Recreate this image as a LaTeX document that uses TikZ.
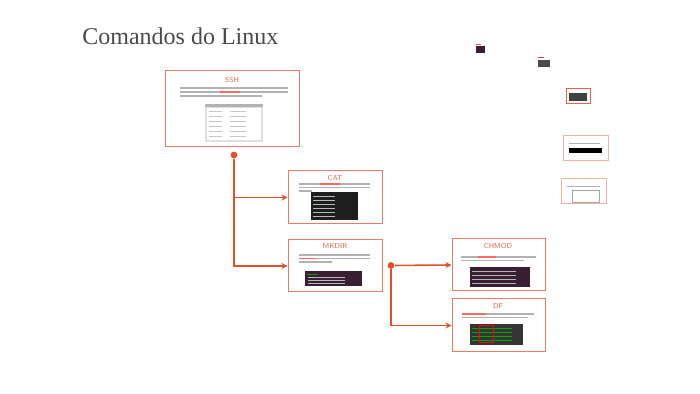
\documentclass[tikz,border=0pt]{standalone}
\usepackage{fontspec}
\setmainfont{Liberation Serif}
\usepackage{tikz}
\usetikzlibrary{arrows.meta}

\definecolor{prezi}{HTML}{E2674A}
\definecolor{linkred}{HTML}{E0512B}
\definecolor{titlegray}{HTML}{4A4A4A}
\definecolor{termpurple}{HTML}{3A1E33}
\definecolor{termdark}{HTML}{1E1E1E}

\tikzset{
  slide/.style={draw=prezi!85, line width=0.5pt, fill=white, inner sep=0pt},
  boxtitle/.style={text=prezi, font=\fontsize{3.6}{4}\selectfont\sffamily, inner sep=0pt},
  txtline/.style={gray!60, line width=0.55pt},
  redline/.style={red!60, line width=0.55pt},
  link/.style={draw=linkred, line width=0.8pt},
  junction/.style={circle, fill=linkred, inner sep=0pt, minimum size=3.4pt}
}

\begin{document}
\begin{tikzpicture}[x=0.5pt,y=-0.5pt]
    \useasboundingbox (0,0) rectangle (700,394);
    \fill[white] (0,0) rectangle (700,394);

    % Dot grid
    \foreach \x in {9,26,...,700}
        \foreach \y in {8,25,...,394}
            \fill[gray!16] (\x,\y) circle (0.35pt);

    % Title
    \node[anchor=west, text=titlegray, font=\fontsize{12}{14}\selectfont, inner sep=0pt] (title) at (82,36) {Comandos do Linux};

    % SSH slide
    \node[slide, minimum width=67pt, minimum height=38pt] (ssh) at (232,109) {};
    \node[boxtitle] (sshtitle) at (232,80) {SSH};
    \draw[txtline] (180,88) -- (288,88);
    \draw[txtline] (180,92) -- (288,92);
    \draw[txtline] (180,96) -- (262,96);
    \draw[redline] (220,92) -- (240,92);
    \fill[gray!25] (205,104) rectangle (263,142);
    \fill[white] (207,108) rectangle (261,140);
    \fill[gray!60] (205,104) rectangle (263,107);
    \foreach \y in {111,116,121,126,131,136}
        \draw[gray!45, line width=0.45pt] (209,\y) -- (222,\y) (230,\y) -- (246,\y);

    % CAT slide
    \node[slide, minimum width=47pt, minimum height=26.5pt] (cat) at (335,197.5) {};
    \node[boxtitle] (cattitle) at (335,178) {CAT};
    \draw[txtline] (299,184) -- (370,184);
    \draw[txtline] (299,187.5) -- (370,187.5);
    \draw[txtline] (299,191) -- (312,191);
    \draw[redline] (320,184) -- (340,184);
    \fill[termdark] (311,192) rectangle (358,220);
    \foreach \y in {196,200,204,208,212,216}
        \draw[gray!55, line width=0.35pt] (313,\y) -- (335,\y);

    % MKDIR slide
    \node[slide, minimum width=47pt, minimum height=26pt] (mkdir) at (335,266) {};
    \node[boxtitle] (mkdirtitle) at (335,246) {MKDIR};
    \draw[txtline] (299,255) -- (370,255);
    \draw[txtline] (299,258.5) -- (370,258.5);
    \draw[txtline] (299,262) -- (332,262);
    \draw[redline] (299,258.5) -- (316,258.5);
    \fill[termpurple] (305,271) rectangle (362,286);
    \draw[green!60!black, line width=0.45pt] (307,274) -- (318,274);
    \foreach \y in {277,280,283}
        \draw[gray!55, line width=0.35pt] (308,\y) -- (345,\y);

    % CHMOD slide
    \node[slide, minimum width=46.5pt, minimum height=26pt] (chmod) at (498.5,265) {};
    \node[boxtitle] (chmodtitle) at (498,246) {CHMOD};
    \draw[txtline] (461,257) -- (536,257);
    \draw[txtline] (461,260.5) -- (524,260.5);
    \draw[redline] (478,257) -- (496,257);
    \fill[termpurple] (470,267) rectangle (530,287);
    \foreach \y in {271,275,279,283}
        \draw[gray!60, line width=0.35pt] (472,\y) -- (516,\y);

    % DF slide
    \node[slide, minimum width=46.5pt, minimum height=26.5pt] (df) at (498.5,325.5) {};
    \node[boxtitle] (dftitle) at (498,306) {DF};
    \draw[txtline] (462,314) -- (534,314);
    \draw[txtline] (462,317.5) -- (528,317.5);
    \draw[redline] (462,314) -- (486,314);
    \fill[termdark!90] (470,324) rectangle (523,345);
    \foreach \y in {328,332,336,340}
        \draw[green!65!black, line width=0.35pt] (472,\y) -- (512,\y);
    \draw[red, line width=0.5pt] (479,326) rectangle (493,343);

    % Small thumbnails on the right
    \fill[termpurple] (476,46) rectangle (485,53);
    \draw[red!70, line width=0.5pt] (476,44.5) -- (481,44.5);
    \fill[termdark!80] (538,60) rectangle (550,67);
    \draw[red!80, line width=0.5pt] (538,58) -- (544,58);
    \draw[prezi, line width=0.5pt] (566,89) rectangle (590,104);
    \fill[termdark!85] (569,93) rectangle (587,101);
    \draw[prezi!50, line width=0.4pt] (563,135) rectangle (608,160);
    \fill[black] (569,148) rectangle (602,153);
    \draw[gray!60, line width=0.4pt] (569,143) -- (600,143);
    \draw[prezi!50, line width=0.4pt] (561,178) rectangle (606,203);
    \draw[gray!60, line width=0.4pt] (567,186) -- (600,186);
    \draw[gray!70, line width=0.4pt] (572,190) rectangle (599,202);

    % Connectors
    \node[junction] (j1) at (234,155) {};
    \draw[link, -{Stealth[length=3pt, width=3pt]}] (j1) |- (cat.west);
    \draw[link, -{Stealth[length=3pt, width=3pt]}] (j1) |- (mkdir.west);

    \node[junction] (j2) at (391,265.5) {};
    \draw[link, -{Stealth[length=3pt, width=3pt]}] (j2) -- (chmod.west);
    \draw[link, -{Stealth[length=3pt, width=3pt]}] (j2) |- (df.west);

\end{tikzpicture}
\end{document}
